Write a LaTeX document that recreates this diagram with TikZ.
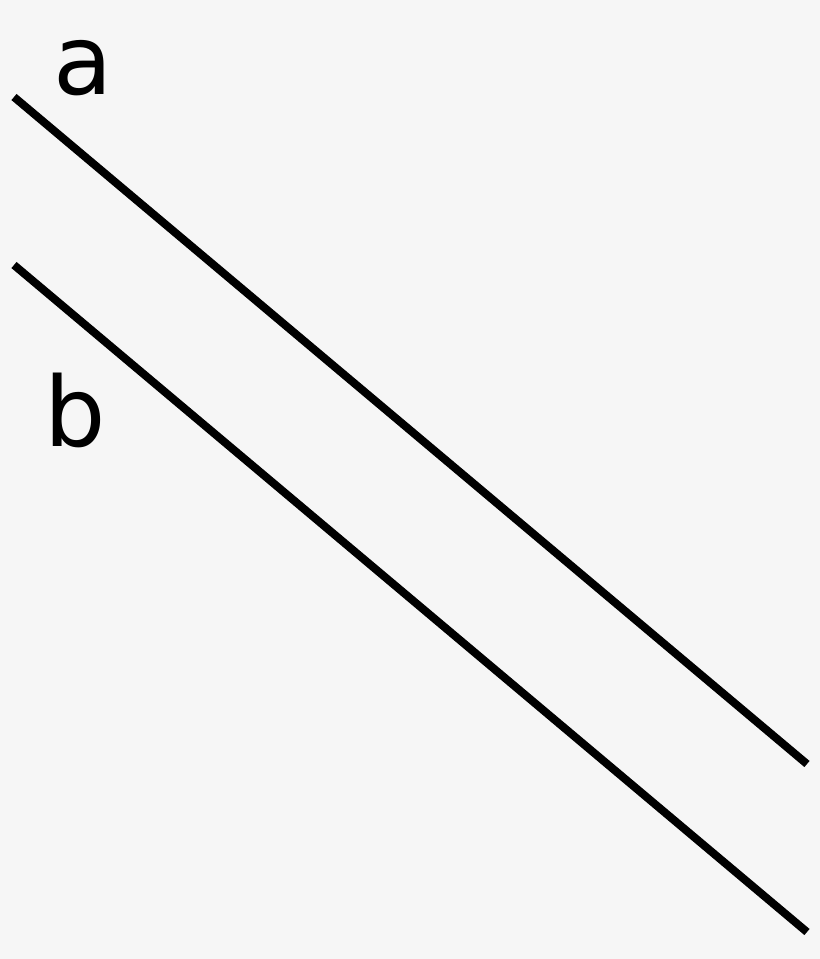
\documentclass[tikz,border=0pt]{standalone}
\usepackage{fontspec}
\setmainfont{DejaVu Sans}
\usepackage{tikz}
\usetikzlibrary{positioning}
\definecolor{paper}{HTML}{F6F6F6}

\begin{document}
\begin{tikzpicture}[x=0.01cm,y=-0.01cm]
        \fill[paper] (0,0) rectangle (820,959);
        \useasboundingbox (0,0) rectangle (820,959);
        \begin{scope}[every node/.style={inner sep=0pt,anchor=base west,font=\fontsize{27.5}{33}\selectfont}]
            \node (la) at (53,94) {a};
            \node (lb) at (44,446) {b};
        \end{scope}
        \coordinate (a1) at (14,97);
        \coordinate (a2) at (807,764);
        \coordinate (b1) at (14,265);
        \coordinate (b2) at (807,932);
        \begin{scope}[line width=0.08cm]
            \draw (a1) -- (a2);
            \draw (b1) -- (b2);
        \end{scope}
    \end{tikzpicture}
\end{document}
